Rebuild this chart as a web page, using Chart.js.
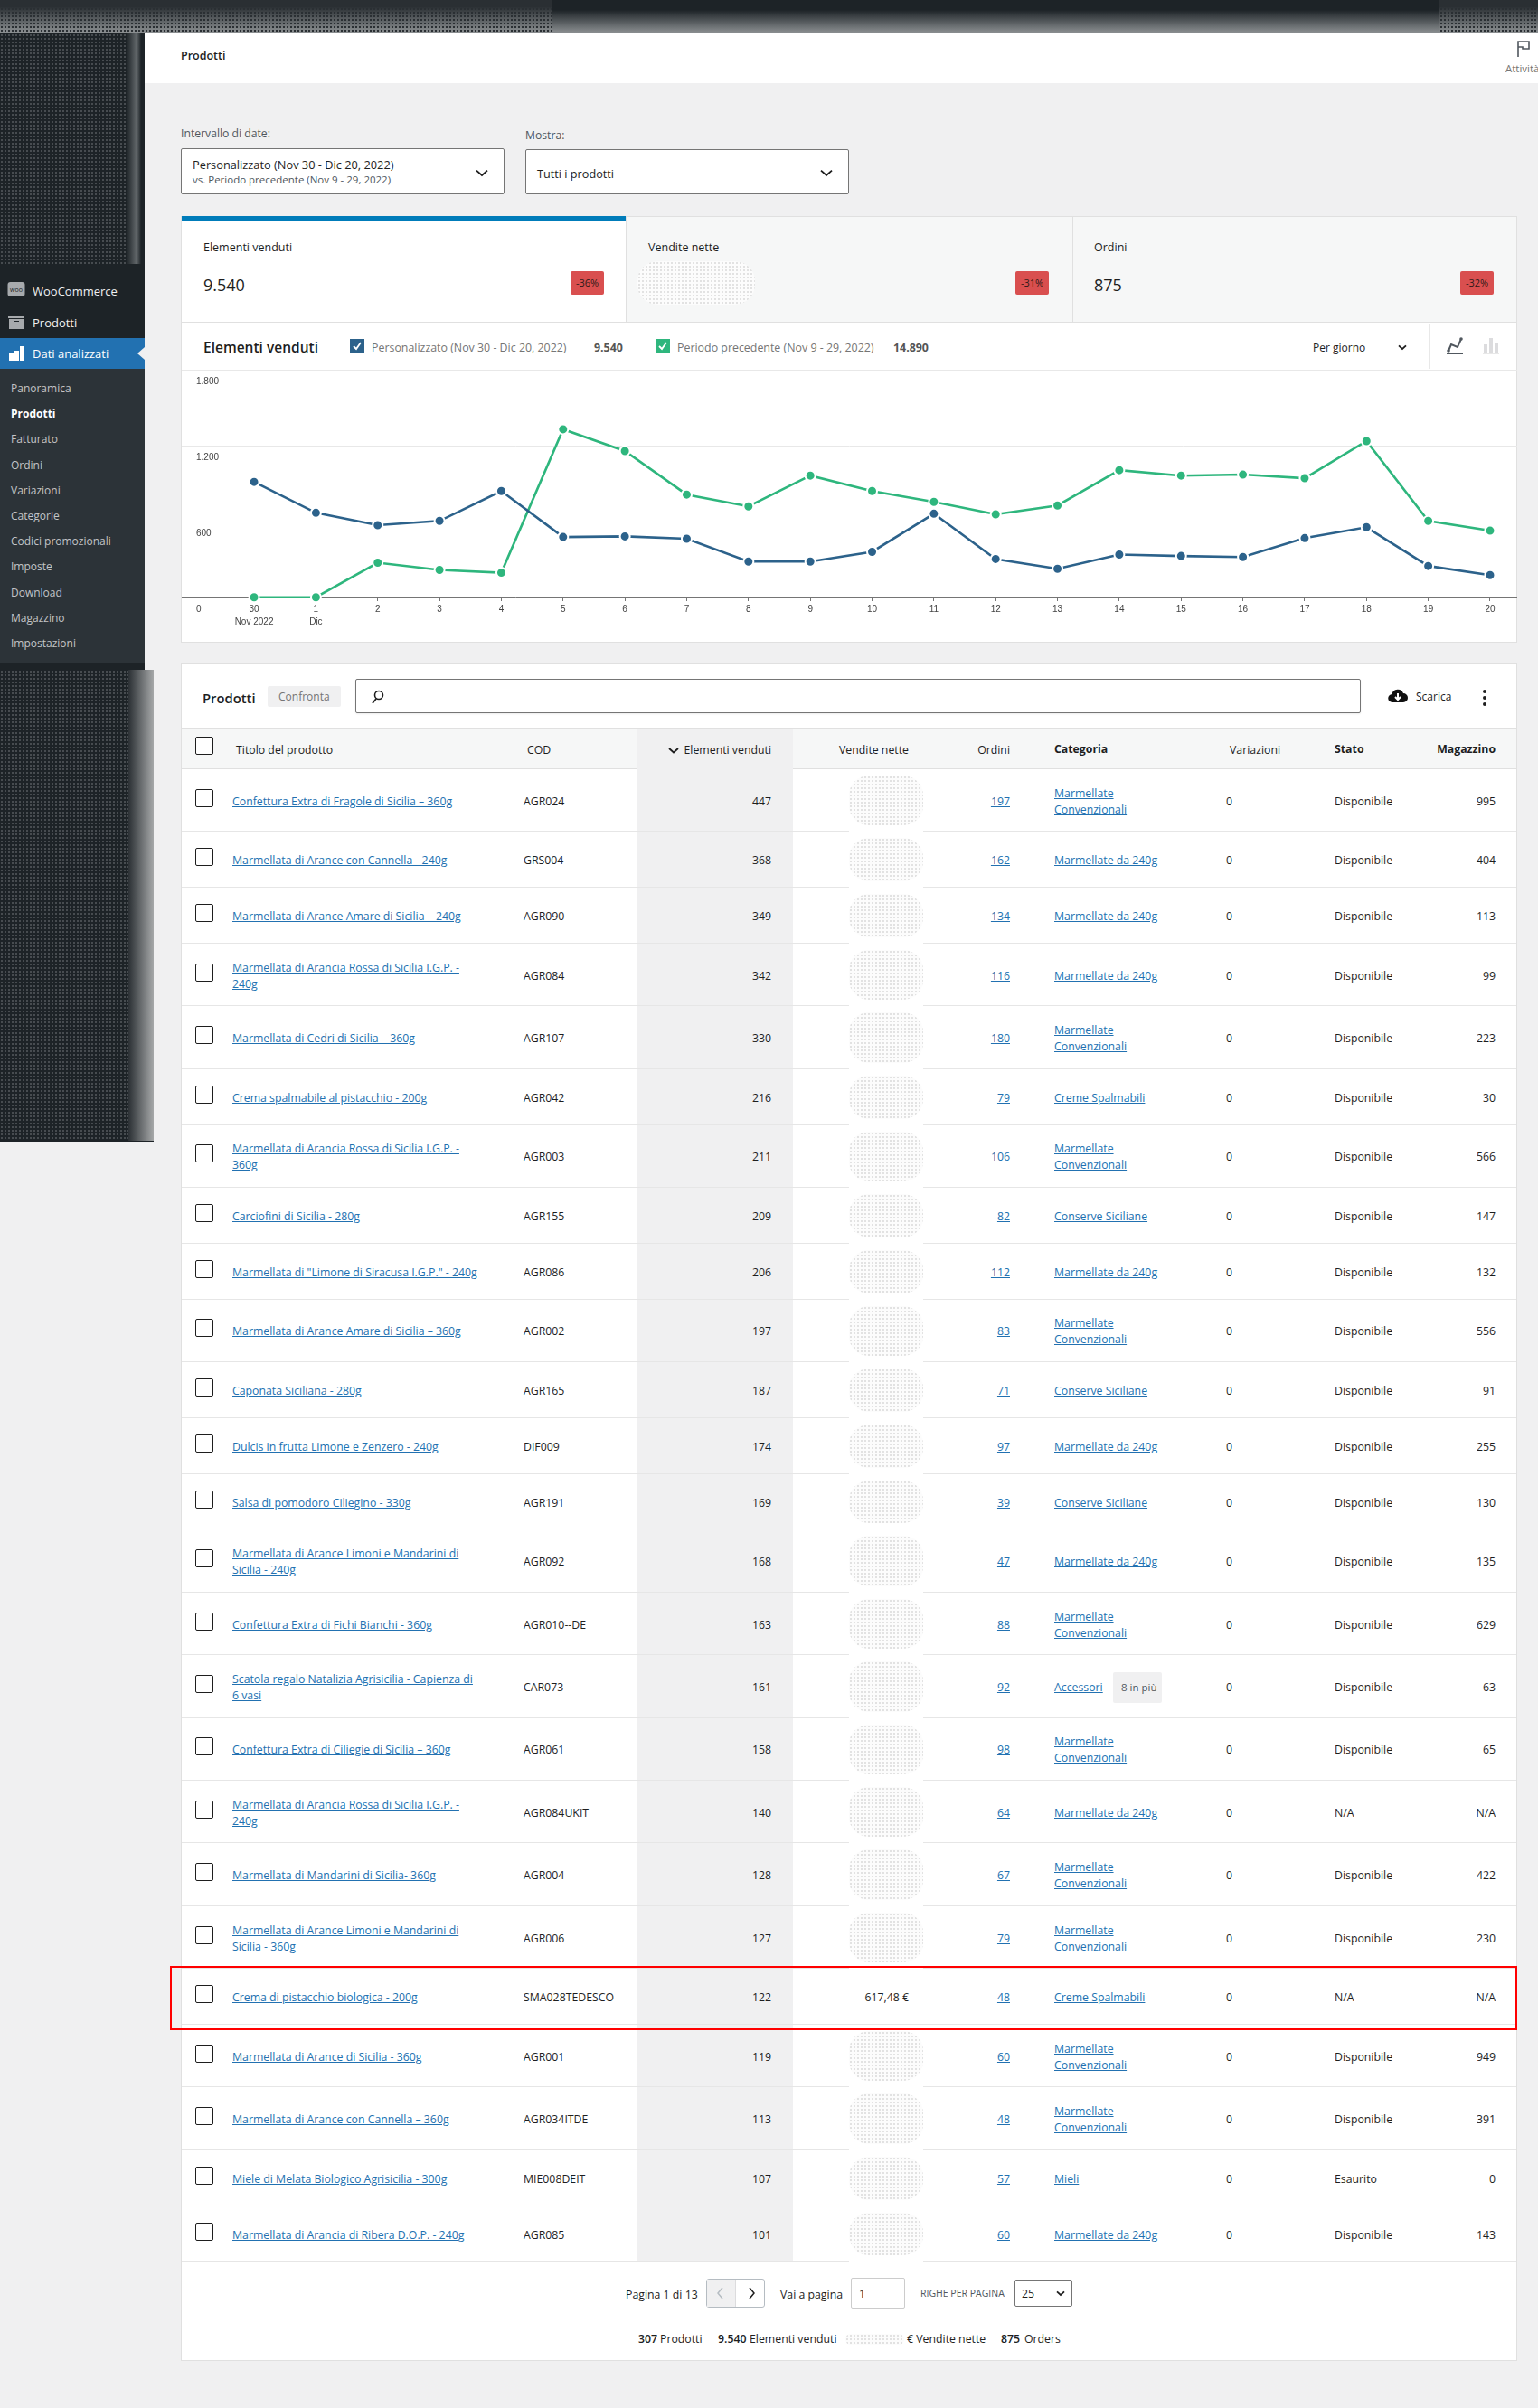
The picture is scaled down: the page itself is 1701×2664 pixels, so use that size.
<!DOCTYPE html>
<html lang="it">
<head>
<meta charset="utf-8">
<title>Prodotti</title>
<script src="https://cdn.jsdelivr.net/npm/chart.js@4"></script>
<style>
    html, body { margin: 0; padding: 0; }
    body { width: 1701px; height: 2664px; background: #f0f0f1; position: relative; overflow: hidden;
           font-family: "Open Sans", sans-serif; font-size: 12.3px; color: #1e1e1e; }
    .box { position: absolute; box-sizing: border-box; }
    .t { position: absolute; white-space: pre; transform: translateY(-50%); line-height: 18px; }
    .r { transform: translate(-100%, -50%); }
    .link { color: #2271b1; text-decoration: underline; }
    .b { font-weight: 700; }
    .smudge { background: radial-gradient(circle, #e2e2e2 0.9px, rgba(255,255,255,0) 1.3px) 0 0 / 4px 4px, #fcfcfc; border-radius: 22px; }
    .grain { background: radial-gradient(circle, #474c50 0.9px, rgba(0,0,0,0) 1.3px) 0 0 / 4px 4px, #1d2327; }
    .grainTop { background: radial-gradient(circle, #2a2f33 0.9px, rgba(0,0,0,0) 1.3px) 0 0 / 4px 4px, linear-gradient(#2a2f33 20%, #8e9294 100%); }
    #chartWrap { position: absolute; left: 201px; top: 409px; width: 1477px; height: 302px; }
    svg { position: absolute; }
</style>
</head>
<body>
<div id="page"></div>
<div id="chartWrap"><canvas id="itemsChart" width="1477" height="302"></canvas></div>
<script>
// chart data
const dayLabels = ['30', '1', '2', '3', '4', '5', '6', '7', '8', '9', '10', '11', '12', '13', '14', '15', '16', '17', '18', '19', '20'];
const monthLabels = ['Nov 2022', 'Dic'];
const yTickLabels = ['0', '600', '1.200', '1.800'];
const currentPeriod = [913, 669, 571, 605, 841, 478, 483, 464, 284, 284, 361, 662, 304, 227, 339, 328, 320, 469, 555, 249, 177];
const previousPeriod = [2, 2, 275, 218, 196, 1329, 1157, 813, 720, 963, 841, 755, 657, 727, 1006, 963, 971, 942, 1236, 605, 528];

// table data
const titles = [
    'Confettura Extra di Fragole di Sicilia – 360g',
    'Marmellata di Arance con Cannella - 240g',
    'Marmellata di Arance Amare di Sicilia – 240g',
    'Marmellata di Arancia Rossa di Sicilia I.G.P. -\n240g',
    'Marmellata di Cedri di Sicilia – 360g',
    'Crema spalmabile al pistacchio - 200g',
    'Marmellata di Arancia Rossa di Sicilia I.G.P. -\n360g',
    'Carciofini di Sicilia - 280g',
    'Marmellata di "Limone di Siracusa I.G.P." - 240g',
    'Marmellata di Arance Amare di Sicilia – 360g',
    'Caponata Siciliana - 280g',
    'Dulcis in frutta Limone e Zenzero - 240g',
    'Salsa di pomodoro Ciliegino - 330g',
    'Marmellata di Arance Limoni e Mandarini di\nSicilia - 240g',
    'Confettura Extra di Fichi Bianchi - 360g',
    'Scatola regalo Natalizia Agrisicilia - Capienza di\n6 vasi',
    'Confettura Extra di Ciliegie di Sicilia – 360g',
    'Marmellata di Arancia Rossa di Sicilia I.G.P. -\n240g',
    'Marmellata di Mandarini di Sicilia- 360g',
    'Marmellata di Arance Limoni e Mandarini di\nSicilia - 360g',
    'Crema di pistacchio biologica - 200g',
    'Marmellata di Arance di Sicilia - 360g',
    'Marmellata di Arance con Cannella – 360g',
    'Miele di Melata Biologico Agrisicilia - 300g',
    'Marmellata di Arancia di Ribera D.O.P. - 240g'
];
const skus = ['AGR024', 'GRS004', 'AGR090', 'AGR084', 'AGR107', 'AGR042', 'AGR003', 'AGR155', 'AGR086', 'AGR002', 'AGR165', 'DIF009', 'AGR191', 'AGR092', 'AGR010--DE', 'CAR073', 'AGR061', 'AGR084UKIT', 'AGR004', 'AGR006', 'SMA028TEDESCO', 'AGR001', 'AGR034ITDE', 'MIE008DEIT', 'AGR085'];
const itemsSold = [447, 368, 349, 342, 330, 216, 211, 209, 206, 197, 187, 174, 169, 168, 163, 161, 158, 140, 128, 127, 122, 119, 113, 107, 101];
const orders = [197, 162, 134, 116, 180, 79, 106, 82, 112, 83, 71, 97, 39, 47, 88, 92, 98, 64, 67, 79, 48, 60, 48, 57, 60];
const CONV = 'Marmellate\nConvenzionali', M240 = 'Marmellate da 240g', CS = 'Creme Spalmabili', CONS = 'Conserve Siciliane';
const categories = [CONV, M240, M240, M240, CONV, CS, CONV, CONS, M240, CONV, CONS, M240, CONS, M240, CONV, 'Accessori', CONV, M240, CONV, CONV, CS, CONV, CONV, 'Mieli', M240];
const statuses = ['Disponibile', 'Disponibile', 'Disponibile', 'Disponibile', 'Disponibile', 'Disponibile', 'Disponibile', 'Disponibile', 'Disponibile', 'Disponibile', 'Disponibile', 'Disponibile', 'Disponibile', 'Disponibile', 'Disponibile', 'Disponibile', 'Disponibile', 'N/A', 'Disponibile', 'Disponibile', 'N/A', 'Disponibile', 'Disponibile', 'Esaurito', 'Disponibile'];
const stock = ['995', '404', '113', '99', '223', '30', '566', '147', '132', '556', '91', '255', '130', '135', '629', '63', '65', 'N/A', '422', '230', 'N/A', '949', '391', '0', '143'];
const sidebarItems = ['Panoramica', 'Prodotti', 'Fatturato', 'Ordini', 'Variazioni', 'Categorie', 'Codici promozionali', 'Imposte', 'Download', 'Magazzino', 'Impostazioni'];

const page = document.getElementById('page');

function box(x, y, w, h, style, cls) {
    const el = document.createElement('div');
    el.className = 'box ' + (cls || '');
    el.style.cssText = `left:${x}px;top:${y}px;width:${w}px;height:${h}px;${style || ''}`;
    page.appendChild(el);
    return el;
}

function text(str, x, y, style, cls) {
    const el = document.createElement('div');
    el.className = 't ' + (cls || '');
    el.style.cssText = `left:${x}px;top:${y}px;${style || ''}`;
    el.textContent = str;
    page.appendChild(el);
    return el;
}

function icon(x, y, w, h, inner) {
    const wrap = document.createElement('div');
    wrap.innerHTML = `<svg style="left:${x}px;top:${y}px" width="${w}" height="${h}" viewBox="0 0 ${w} ${h}">${inner}</svg>`;
    page.appendChild(wrap);
}

function chevron(x, y, size, color) {
    const s = size || 5;
    icon(x - s - 1, y - s, s * 2 + 2, s * 2, `<path d="M1 ${s * 0.6}L${s + 1} ${s * 1.5}L${s * 2 + 1} ${s * 0.6}" fill="none" stroke="${color || '#1e1e1e'}" stroke-width="1.8"/>`);
}

// top bar and sidebar
box(0, 0, 1701, 37, 'background:linear-gradient(#1d2327 30%, #8e9294 100%)');
box(0, 0, 610, 37, '', 'grainTop');
box(1592, 0, 109, 37, '', 'grainTop');
box(0, 37, 160, 255, '', 'grain');
box(140, 37, 20, 255, 'background:linear-gradient(90deg,#1d2327,#62676a 55%,#1d2327 80%)');
box(0, 292, 160, 449, 'background:#1d2327');
box(0, 374, 160, 34, 'background:#2271b1');
box(0, 408, 160, 325, 'background:#2c3338');
box(0, 741, 170, 522, '', 'grain');
box(142, 741, 28, 522, 'background:linear-gradient(90deg,#2b3034,#a6a8a9)');
box(0, 1262, 170, 1, 'background:#1d2327');
icon(8, 311, 20, 20, '<rect x="0.5" y="1" width="19" height="16" rx="3" fill="#a7aaad"/><text x="10" y="12" font-size="7" text-anchor="middle" fill="#1d2327">woo</text>');
text('WooCommerce', 36, 322, 'color:#f0f0f1;font-size:13px');
icon(9, 350, 18, 14, '<rect x="0" y="0" width="18" height="2" fill="#a7aaad"/><rect x="1" y="3" width="16" height="11" fill="#a7aaad"/><rect x="6" y="5" width="6" height="1" fill="#1d2327"/>');
text('Prodotti', 36, 357, 'color:#f0f0f1;font-size:13px');
icon(10, 383, 17, 16, '<rect x="0" y="8" width="5" height="8" fill="#fff"/><rect x="6" y="5" width="5" height="11" fill="#fff"/><rect x="12" y="0" width="5" height="16" fill="#fff"/>');
text('Dati analizzati', 36, 391, 'color:#fff;font-size:13px');
icon(152, 384, 8, 14, '<path d="M8 0L0 7L8 14Z" fill="#f0f0f1"/>');
sidebarItems.forEach(function (name, i) {
    const active = name === 'Prodotti';
    text(name, 12, 430 + i * 28.2, `font-size:12px;color:${active ? '#fff' : '#c3c4c7'};${active ? 'font-weight:700' : ''}`);
});

// page header
box(160, 37, 1541, 55, 'background:#fff');
text('Prodotti', 200, 62, 'font-size:12.5px;font-weight:600');
icon(1677, 45, 16, 18, '<path d="M2 18V1H14V9H7V7H2" fill="none" stroke="#50575e" stroke-width="1.6"/>');
text('Attività', 1665, 76, 'font-size:11.5px;color:#757575');

// filters
text('Intervallo di date:', 200, 148, 'font-size:12.2px;color:#50575e');
text('Mostra:', 581, 150, 'font-size:12.2px;color:#50575e');
box(200, 164, 358, 51, 'background:#fff;border:1px solid #757575;border-radius:2px');
box(581, 165, 358, 50, 'background:#fff;border:1px solid #757575;border-radius:2px');
text('Personalizzato (Nov 30 - Dic 20, 2022)', 213, 182, 'font-size:12.8px');
text('vs. Periodo precedente (Nov 9 - 29, 2022)', 213, 199, 'font-size:11.5px;color:#50575e');
text('Tutti i prodotti', 594, 192, 'font-size:12.7px');
chevron(533, 191, 6);
chevron(914, 191, 6);

// summary tabs
box(200, 239, 1478, 118, 'background:#f6f7f7;border:1px solid #e0e0e0');
box(201, 239, 491, 118, 'background:#fff;border-top:5px solid #007cba');
box(1186, 240, 1, 116, 'background:#e0e0e0');
box(692, 240, 1, 116, 'background:#e0e0e0');
text('Elementi venduti', 225, 274, 'font-size:12.5px');
text('Vendite nette', 717, 274, 'font-size:12.5px');
text('Ordini', 1210, 274, 'font-size:12.5px');
text('9.540', 225, 315, 'font-size:18px');
box(705, 289, 130, 48, '', 'smudge');
text('875', 1210, 315, 'font-size:18px');
[[631, '-36%'], [1123, '-31%'], [1615, '-32%']].forEach(function (badge) {
    box(badge[0], 300, 37, 26, 'background:#d94f4f;border-radius:2px');
    text(badge[1], badge[0] + 18.5, 313, 'font-size:11px;color:#2d1a1a;transform:translate(-50%,-50%)');
});

// chart card
box(200, 356, 1478, 355, 'background:#fff;border:1px solid #e0e0e0');
box(201, 409, 1476, 1, 'background:#e0e0e0');
text('Elementi venduti', 225, 384, 'font-size:15.5px;font-weight:600');
box(387, 375, 16, 16, 'background:#2c628b');
icon(390, 378, 10, 10, '<path d="M1 5L4 8L9 1" fill="none" stroke="#fff" stroke-width="1.8"/>');
text('Personalizzato (Nov 30 - Dic 20, 2022)', 411, 385, 'font-size:12.4px;color:#757575');
text('9.540', 657, 385, 'font-size:12.4px;font-weight:700;color:#555');
box(725, 375, 16, 16, 'background:#2eb67d');
icon(728, 378, 10, 10, '<path d="M1 5L4 8L9 1" fill="none" stroke="#fff" stroke-width="1.8"/>');
text('Periodo precedente (Nov 9 - 29, 2022)', 749, 385, 'font-size:12.4px;color:#757575');
text('14.890', 988, 385, 'font-size:12.4px;font-weight:700;color:#555');
text('Per giorno', 1452, 385, 'font-size:12px');
chevron(1551, 384, 4);
box(1581, 358, 1, 50, 'background:#e8e8e8');
icon(1600, 373, 18, 20, '<path d="M2 15L5 8L12 11L16 2" fill="none" stroke="#50575e" stroke-width="2"/><circle cx="2" cy="15" r="1.8" fill="#50575e"/><circle cx="16" cy="2" r="1.8" fill="#50575e"/>');
box(1600, 390, 18, 2, 'background:#50575e');
icon(1640, 374, 18, 16, '<rect x="1" y="7" width="4" height="9" fill="#dcdcde"/><rect x="7" y="0" width="4" height="16" fill="#dcdcde"/><rect x="13" y="5" width="4" height="11" fill="#dcdcde"/>');
box(1640, 390, 18, 2, 'background:#e8e8e8');

// table card
box(200, 734, 1478, 1878, 'background:#fff;border:1px solid #e0e0e0');
text('Prodotti', 224, 772, 'font-size:14.8px;font-weight:600');
box(296, 759, 81, 23, 'background:#f0f0f1;border-radius:2px');
text('Confronta', 308, 771, 'font-size:12px;color:#757575');
box(393, 751, 1112, 38, 'background:#fff;border:1px solid #757575;border-radius:2px;box-shadow:0 1px 2px rgba(0,0,0,.08)');
icon(410, 763, 16, 16, '<circle cx="9" cy="6" r="4.5" fill="none" stroke="#1e1e1e" stroke-width="1.6"/><path d="M6 10L2 15" stroke="#1e1e1e" stroke-width="1.8"/>');
icon(1535, 761, 22, 18, '<path d="M5 16a4.5 4.5 0 0 1-.5-9 6.5 6.5 0 0 1 12.5-1 5 5 0 0 1 0 10Z" fill="#111"/><path d="M11 6V12M8 10L11 13L14 10" fill="none" stroke="#fff" stroke-width="2"/>');
text('Scarica', 1566, 771, 'font-size:12px');
[763, 770, 777].forEach(function (y) {
    box(1640, y, 4, 4, 'background:#1e1e1e;border-radius:50%');
});

// table header row
box(201, 805, 1476, 46, 'background:#f6f7f7;border-top:1px solid #e0e0e0;border-bottom:1px solid #e0e0e0');
box(705, 806, 172, 45, 'background:#f0f0f1');
box(216, 815, 20, 20, 'background:#fff;border:1px solid #1e1e1e;border-radius:2px');
text('Titolo del prodotto', 261, 830);
text('COD', 583, 830);
chevron(745, 830, 5);
text('Elementi venduti', 853, 830, '', 'r');
text('Vendite nette', 1005, 830, '', 'r');
text('Ordini', 1117, 830, '', 'r');
text('Categoria', 1166, 829, '', 'b');
text('Variazioni', 1360, 830);
text('Stato', 1476, 829, '', 'b');
text('Magazzino', 1654, 829, 'font-weight:700', 'r');

// table rows
let rowTop = 851;
titles.forEach(function (title, i) {
    const tall = title.includes('\n') || categories[i].includes('\n');
    const h = tall ? 69.4 : 61.8;
    const mid = rowTop + h / 2 + 1;
    box(705, rowTop, 172, h, 'background:#f0f0f1');
    box(201, rowTop + h - 1, 1476, 1, 'background:#e6e6e6');
    box(216, mid - 14, 20, 20, 'background:#fff;border:1px solid #1e1e1e;border-radius:2px');
    text(title, 257, mid, 'white-space:pre-line', 'link');
    text(skus[i], 579, mid);
    text(String(itemsSold[i]), 853, mid, '', 'r');
    if (skus[i] === 'SMA028TEDESCO') {
        text('617,48 €', 1005, mid, '', 'r');
    } else {
        box(939, rowTop + 1, 82, h - 1, 'background:#fff');
        box(939, rowTop + 7, 82, h - 14, '', 'smudge');
    }
    text(String(orders[i]), 1117, mid, '', 'r link');
    text(categories[i], 1166, mid, 'white-space:pre-line', 'link');
    if (categories[i] === 'Accessori') {
        box(1231, mid - 17, 54, 34, 'background:#f0f0f1;border-radius:2px');
        text('8 in più', 1240, mid, 'font-size:11.5px;color:#50575e');
    }
    text('0', 1356, mid);
    text(statuses[i], 1476, mid);
    text(stock[i], 1654, mid, '', 'r');
    rowTop += h;
});

// highlighted row
box(188, 2175, 1490, 71, 'border:2px solid #f00');

// footer
text('Pagina 1 di 13', 692, 2539);
box(781, 2521, 65, 32, 'background:#fff;border:1px solid #b5bcc2;border-radius:3px');
box(782, 2522, 32, 30, 'background:#f0f0f1;border-right:1px solid #dcdcde');
icon(791, 2530, 12, 14, '<path d="M8 1L3 7L8 13" fill="none" stroke="#b5bcc2" stroke-width="1.5"/>');
icon(825, 2530, 12, 14, '<path d="M4 1L9 7L4 13" fill="none" stroke="#1e1e1e" stroke-width="1.5"/>');
text('Vai a pagina', 863, 2539);
box(941, 2520, 60, 34, 'background:#fff;border:1px solid #ccc;border-radius:2px');
text('1', 950, 2538);
text('RIGHE PER PAGINA', 1018, 2537, 'font-size:10.5px;color:#50575e');
box(1122, 2522, 64, 30, 'background:#fff;border:1px solid #757575;border-radius:2px');
text('25', 1130, 2538);
chevron(1173, 2537, 4);
text('307', 706, 2588, 'font-weight:600');
text('Prodotti', 730, 2588);
text('9.540', 794, 2588, 'font-weight:600');
text('Elementi venduti', 829, 2588);
box(935, 2582, 65, 12, '', 'smudge');
text('€ Vendite nette', 1003, 2588);
text('875', 1107, 2588, 'font-weight:600');
text('Orders', 1133, 2588);

// chart
const firstDayOffset = 80 / 68.3;
const lastDayOffset = 30 / 68.3;
new Chart(document.getElementById('itemsChart').getContext('2d'), {
    type: 'line',
    data: {
        datasets: [
            {
                label: 'Personalizzato (Nov 30 - Dic 20, 2022)',
                data: currentPeriod.map((v, i) => ({ x: i, y: v })),
                borderColor: '#2c628b',
                backgroundColor: '#2c628b'
            },
            {
                label: 'Periodo precedente (Nov 9 - 29, 2022)',
                data: previousPeriod.map((v, i) => ({ x: i, y: v })),
                borderColor: '#2eb67d',
                backgroundColor: '#2eb67d'
            }
        ]
    },
    options: {
        responsive: false,
        animation: false,
        devicePixelRatio: 1,
        clip: false,
        // no room for the points: the plot has to fill the whole card
        layout: { padding: 0, autoPadding: false },
        elements: {
            line: { borderWidth: 2.6, tension: 0 },
            point: { radius: 5.5, borderColor: '#fff', borderWidth: 2, pointStyle: 'circle' }
        },
        datasets: { line: { pointBorderColor: '#fff', pointBorderWidth: 2, pointRadius: 5.5 } },
        plugins: { legend: { display: false }, title: { display: false }, tooltip: { enabled: false } },
        scales: {
            x: {
                type: 'linear',
                min: -firstDayOffset,
                max: 20 + lastDayOffset,
                afterBuildTicks: function (scale) {
                    scale.ticks = dayLabels.map((_, i) => ({ value: i }));
                },
                afterFit: function (scale) {
                    scale.height = 50;
                    scale.paddingLeft = 0;
                    scale.paddingRight = 0;
                },
                grid: { drawOnChartArea: false, drawTicks: true, tickLength: 4, tickColor: '#757575' },
                border: { display: true, color: '#757575', width: 1 },
                ticks: {
                    autoSkip: false,
                    maxRotation: 0,
                    padding: 2,
                    color: '#444',
                    font: { family: '"Liberation Sans", sans-serif', size: 10, lineHeight: 1.4 },
                    callback: function (value) {
                        return monthLabels[value] ? [dayLabels[value], monthLabels[value]] : dayLabels[value];
                    }
                }
            },
            y: {
                min: 0,
                max: 1800,
                afterFit: function (scale) {
                    scale.width = 0;
                    scale.paddingTop = 0;
                    scale.paddingBottom = 0;
                },
                grid: { color: '#e8e8e8', drawTicks: false },
                border: { display: false },
                ticks: {
                    stepSize: 600,
                    mirror: true,
                    padding: 16,
                    labelOffset: 13,
                    color: '#444',
                    font: { family: '"Liberation Sans", sans-serif', size: 10 },
                    callback: function (value) {
                        return yTickLabels[value / 600];
                    }
                }
            }
        }
    }
});
</script>
</body>
</html>
